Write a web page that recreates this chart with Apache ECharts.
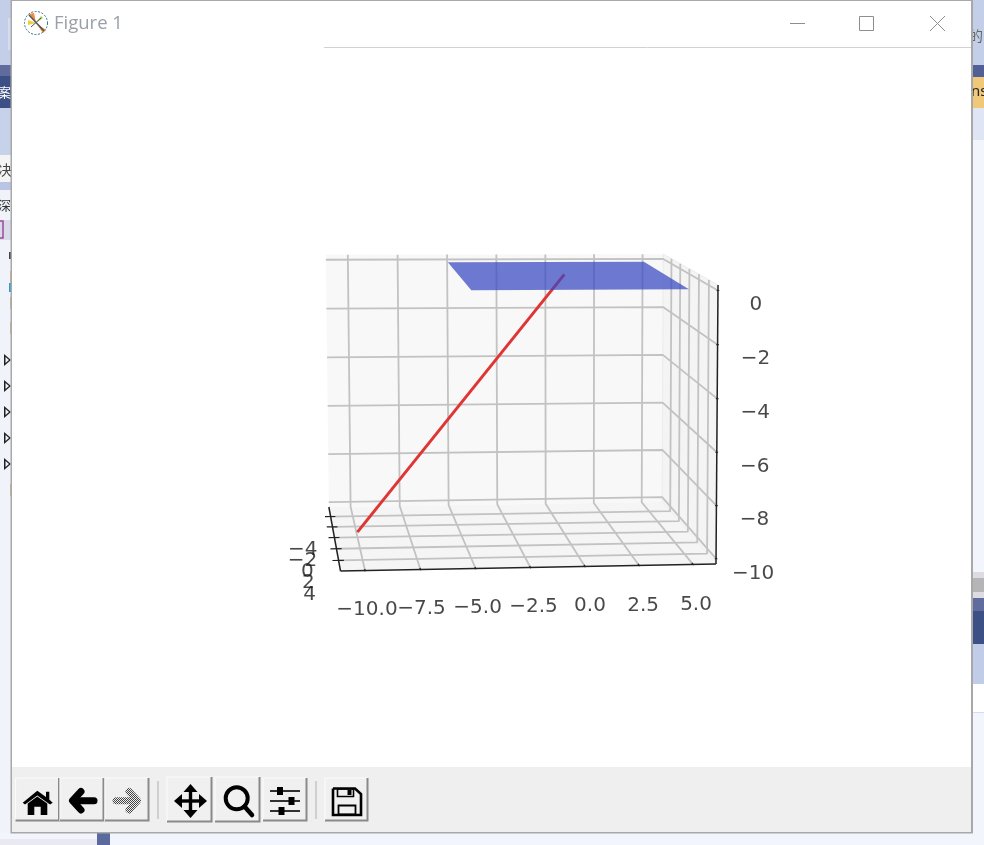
<!DOCTYPE html>
<html><head><meta charset="utf-8">
<style>html,body{margin:0;padding:0;background:#fff}#c{width:984px;height:845px}</style>
<script src="https://cdn.jsdelivr.net/npm/echarts@6/dist/echarts.min.js"></script>
</head><body><div id="c"></div>
<script>
// ---- data ----
const xTicks = [-10, -7.5, -5, -2.5, 0, 2.5, 5];
const yTicks = [-4, -2, 0, 2, 4];
const zTicks = [0, -2, -4, -6, -8, -10];
const xTickLabels = ['\u221210.0', '\u22127.5', '\u22125.0', '\u22122.5', '0.0', '2.5', '5.0'];
const yTickLabels = ['\u22124', '\u22122', '0', '2', '4'];
const zTickLabels = ['0', '\u22122', '\u22124', '\u22126', '\u22128', '\u221210'];
const xLim = [-11.1, 6.07];
const yLim = [-5.94, 5.75];
const zLim = [-10.2, 0.2];
const lineX = [-10, 0];
const lineY = [0, 0];
const lineZ = [-10, 0];
const planeX = [-5, 5];
const planeY = [-5.6, 4.6];
const planeZ = [-0.08];

// ---- 3D view: projective camera fitted to the figure ----
function project(x, y, z) {
  const u = (x - xLim[0]) / (xLim[1] - xLim[0]);
  const v = (yLim[1] - y) / (yLim[1] - yLim[0]);
  const w = (z - zLim[0]) / (zLim[1] - zLim[0]);
  const d = 1 + 0.02 * u + 0.13 * v - 0.014 * w;
  return [(340.5 + 389.82 * u + 31.14 * v - 8 * w) / d,
          (571 + 4.28 * u + 1.91 * v - 288.5 * w) / d];
}
const [x0, x1] = xLim, [y0, y1] = yLim, [z0, z1] = zLim;

function poly(points, fill, z, stroke) {
  return { type: 'custom', coordinateSystem: 'cartesian2d', z, silent: true, clip: false,
    data: [[0, 0]],
    renderItem: (p, api) => ({ type: 'polygon',
      shape: { points: points.map(q => api.coord(q)) },
      style: { fill, stroke: stroke || 'none', lineWidth: 1 } }) };
}
function path(points, color, width, z, cap) {
  return { type: 'line', data: points, z, silent: true, showSymbol: false, symbol: 'none', clip: false,
    lineStyle: { color, width, cap: cap || 'butt' }, emphasis: { disabled: true } };
}
function labels(points, texts, offs, align) {
  return { type: 'scatter', z: 9, silent: true, symbolSize: 0, clip: false,
    data: points.map((q, i) => ({ value: q,
      label: { show: true, formatter: texts[i], position: 'inside', offset: offs[i], align, verticalAlign: 'middle',
        fontFamily: 'DejaVu Sans', fontSize: 20, color: '#1a1a1a' } })) };
}

const series = [];
// panes
series.push(poly([project(x0,y0,z0),project(x1,y0,z0),project(x1,y0,z1),project(x0,y0,z1)], '#f8f8f8', 3));
series.push(poly([project(x1,y0,z0),project(x1,y1,z0),project(x1,y1,z1),project(x1,y0,z1)], '#f4f4f4', 3, '#ececec'));
series.push(poly([project(x0,y1,z0),project(x1,y1,z0),project(x1,y0,z0),project(x0,y0,z0)], '#f5f5f5', 3));
// grid
const gridColor = '#c2c2c2', gw = 1.8;
xTicks.forEach(x => series.push(path([project(x,y1,z0),project(x,y0,z0),project(x,y0,z1)], gridColor, gw, 4)));
yTicks.forEach(y => series.push(path([project(x0,y,z0),project(x1,y,z0),project(x1,y,z1)], gridColor, gw, 4)));
zTicks.forEach(z => series.push(path([project(x0,y0,z),project(x1,y0,z),project(x1,y1,z)], gridColor, gw, 4)));
// red line below the translucent plane
series.push(path(lineX.map((x, i) => project(x, lineY[i], lineZ[i])), '#df3535', 3, 5));
series.push(poly([project(planeX[0],planeY[0],planeZ[0]),project(planeX[1],planeY[0],planeZ[0]),
                  project(planeX[1],planeY[1],planeZ[0]),project(planeX[0],planeY[1],planeZ[0])],
                 'rgba(56,72,192,0.72)', 6));
// axes
const axisColor = '#222';
series.push(path([project(x0,y1,z0),project(x1,y1,z0)], axisColor, 1.5, 7));
series.push(path([project(x0,y1,z0),project(x0,y0,z0)], axisColor, 1.5, 7));
series.push(path([project(x1,y1,z0),project(x1,y1,z1)], axisColor, 1.5, 7));
// ticks
xTicks.forEach(x => series.push(path([project(x,y1-0.25,z0),project(x,y1+0.12,z0)], axisColor, 1.2, 8)));
yTicks.forEach(y => series.push(path([project(x0-0.28,y,z0),project(x0+0.24,y,z0)], axisColor, 1.2, 8)));
zTicks.forEach(z => series.push(path([project(x1-0.06,y1,z),project(x1+0.06,y1,z)], axisColor, 1.2, 8)));
// tick labels
series.push(labels(xTicks.map(x => project(x,y1,z0)), xTickLabels,
  [[2,39.5],[1,39.5],[2,39.5],[3,39.5],[5,39.5],[4,40.5],[3,40.5]], 'center'));
series.push(labels(yTicks.map(y => project(x0,y,z0)), yTickLabels,
  [[-28,33],[-30,33.5],[-27,33.8],[-28,34],[-29,34.5]], 'center'));
series.push(labels(zTicks.map(z => project(x1,y1,z)), zTickLabels,
  [[38,14.5],[38,14.5],[38,14.5],[38,14.5],[38,14.5],[37,15.5]], 'center'));

// ---- window chrome and what shows behind it ----
const els = [];
const R = (x, y, w, h, fill, z, stroke, lw) => els.push({ type: 'rect', z, shape: { x, y, width: w, height: h },
  style: { fill: fill || 'none', stroke: stroke || 'none', lineWidth: lw || 1 } });
const L = (pts, stroke, lw, z, cap) => els.push({ type: 'polyline', z, shape: { points: pts },
  style: { fill: 'none', stroke, lineWidth: lw, lineCap: cap || 'butt', lineJoin: cap === 'round' ? 'round' : 'miter' } });
const P = (pts, fill, z) => els.push({ type: 'polygon', z, shape: { points: pts }, style: { fill } });
const T = (x, y, text, size, fill, z, font) => els.push({ type: 'text', z, x, y,
  style: { text, fontSize: size, fill, fontFamily: font || 'Noto Sans CJK SC', verticalAlign: 'middle', textAlign: 'left' } });

// left strip
R(0, 0, 12, 845, '#f1f3fb', 0);
R(0, 0, 12, 65, '#c3cfe8', 0);
R(8, 18, 4, 32, '#d5ddef', 0);
R(0, 65, 12, 11, '#5f6c9d', 0);
R(0, 76, 12, 32, '#3c5086', 0);
R(0, 108, 12, 47, '#c6d1ea', 0);
R(0, 155, 12, 27, '#f4f4f4', 0);
R(0, 182, 12, 8, '#b9c5e2', 0);
R(0, 220, 12, 20, '#d9dbe8', 0);
T(-2, 92, '案', 13, '#fff', 0);
T(-2, 170, '决', 14, '#444', 0);
T(-2, 205, '深', 13, '#333', 0);
R(-2, 221, 5, 17, 'none', 0, '#a0479a', 1.5);
[360, 386, 412, 438, 464].forEach(y => { P([[4,y-6],[11,y],[4,y+6]], '#222', 0); P([[5.5,y-3],[9,y],[5.5,y+3]], '#f1f3fb', 0); });
[277, 303, 328, 490].forEach(y => R(10, y - 6, 2, 12, '#d8b98a', 0));
R(9, 283, 3, 9, '#2a9fd6', 0);
R(9, 252, 3, 7, '#444', 0);
// right strip
R(972, 0, 12, 845, '#f3f5fc', 0);
R(972, 0, 12, 65, '#c3cfe8', 0);
R(972, 65, 12, 12, '#525f97', 0);
R(972, 77, 12, 31, '#f0c87a', 0);
R(972, 108, 12, 32, '#dfe5f5', 0);
R(972, 572, 12, 6, '#dcdce2', 0);
R(972, 578, 12, 14, '#b5b5b8', 0);
R(972, 592, 12, 6, '#dcdce2', 0);
R(972, 598, 12, 13, '#5f6c9d', 0);
R(972, 611, 12, 33, '#3c5086', 0);
R(972, 644, 12, 40, '#c0cce8', 0);
R(972, 684, 12, 28, '#ffffff', 0);
R(972, 712, 12, 1, '#d5dcef', 0);
T(969, 36, '的', 14, '#666', 0);
T(971, 92, 'ns', 15, '#222', 0, 'Noto Sans');
// bottom strip
R(0, 833, 984, 12, '#f3f5fc', 0);
R(0, 839, 97, 6, '#e8e9f1', 0);
R(97, 833, 13, 12, '#5a6a9e', 0);
// window
R(10.5, -1, 962.5, 834.5, '#a8a8a8', 1);
R(12, 1, 959, 831, '#ffffff', 1);
R(12, 767, 959, 65, '#efefef', 1);
L([[324, 47.5], [971, 47.5]], '#d2d2d2', 1, 1);
// title bar
els.push({ type: 'circle', z: 1, shape: { cx: 36, cy: 23, r: 11.5 }, style: { fill: '#fff', stroke: '#2f6f86', lineWidth: 1, lineDash: [2, 1.5] } });
P([[36, 23], [29, 14], [34, 13]], '#f08a3c', 1);
P([[36, 23], [43, 33], [46, 30]], '#d9853c', 1);
P([[36, 23], [28, 20], [28, 25]], '#f2cf3a', 1);
P([[36, 23], [41, 16], [43, 18]], '#a8cf4a', 1);
L([[29, 15], [44, 31]], '#555', 1.4, 1);
L([[31, 27], [41, 18]], '#555', 1, 1);
T(54, 24, 'Figure 1', 18.5, '#9aa0a8', 1, 'Open Sans');
L([[790, 23.5], [805, 23.5]], '#8e8e8e', 1, 1);
R(859.5, 16.5, 14, 14, 'none', 1, '#8e8e8e', 1);
L([[930, 16], [945, 31]], '#8e8e8e', 1, 1);
L([[945, 16], [930, 31]], '#8e8e8e', 1, 1);
// toolbar buttons
function button(x, y, w, h) {
  R(x, y, w, h, '#f0f0f0', 2);
  L([[x, y + h], [x, y], [x + w, y]], '#fbfbfb', 1.2, 2);
  L([[x, y + h - 0.5], [x + w - 0.5, y + h - 0.5], [x + w - 0.5, y]], '#8a8a8a', 2, 2);
}
[[15.5,778,44,43],[60,778,44,43],[105,778,44,43],[167,777,45,45],[215,777,45,45],[263,778,44,43],[325,778,43,43]]
  .forEach(b => button(...b));
L([[158, 781], [158, 819]], '#c4c4c4', 1.5, 2);
L([[316, 781], [316, 819]], '#c4c4c4', 1.5, 2);
// home
P([[37.3,790.7],[46,797],[46,791.7],[49.3,791.7],[49.3,799.5],[52.7,802.7],[50,804.5],[37.3,795.5],[25,804.5],[22.7,802.7]], '#000', 3);
P([[37.3,796.5],[47.3,803.5],[47.3,815],[40.7,815],[40.7,806.7],[34.3,806.7],[34.3,815],[27.7,815],[27.7,803.5]], '#000', 3);
// back and forward (forward is dithered in the original)
const dither = document.createElement('canvas');
dither.width = dither.height = 2;
const dc = dither.getContext('2d');
dc.fillStyle = '#efefef'; dc.fillRect(0, 0, 2, 2);
dc.fillStyle = '#444'; dc.fillRect(0, 0, 1, 1); dc.fillRect(1, 1, 1, 1);
const ditherFill = { image: dither, repeat: 'repeat' };
L([[81,791.5],[72.5,800.7],[81,810]], '#000', 7, 3, 'round');
L([[74,800.7],[94,800.7]], '#000', 7, 3, 'round');
L([[129,791.5],[137.5,800.7],[129,810]], ditherFill, 7, 3, 'round');
L([[116,800.7],[136,800.7]], ditherFill, 7, 3, 'round');
// pan
L([[178,801],[203,801]], '#000', 3.4, 3);
L([[190.5,788],[190.5,814]], '#000', 3.4, 3);
P([[174,801],[182,794],[182,808]], '#000', 3);
P([[207,801],[199,794],[199,808]], '#000', 3);
P([[190.5,784],[183.5,792],[197.5,792]], '#000', 3);
P([[190.5,818],[183.5,810],[197.5,810]], '#000', 3);
// zoom
els.push({ type: 'circle', z: 3, shape: { cx: 236.7, cy: 798.3, r: 11 }, style: { fill: 'none', stroke: '#000', lineWidth: 4 } });
L([[244.5,806.5],[252,815]], '#000', 4.5, 3, 'round');
// subplots
[791, 801, 811].forEach(y => L([[270,y],[300,y]], '#000', 1.6, 3));
R(277, 787, 6, 8, '#000', 3); R(288.5, 797, 6, 8, '#000', 3); R(278.5, 807, 6, 8, '#000', 3);
// save
L([[333,788.5],[355,788.5],[361,794],[361,815],[333,815],[333,788.5]], '#000', 2.6, 3);
R(337.5, 789, 16, 7.5, 'none', 3, '#000', 1.6);
R(347.5, 790, 4, 5, '#000', 3);
R(338.5, 805.5, 17, 9, 'none', 3, '#000', 1.8);

const chart = echarts.init(document.getElementById('c'), null, { renderer: 'canvas', width: 984, height: 845 });
chart.setOption({
  animation: false,
  backgroundColor: '#fff',
  tooltip: { show: false },
  legend: { show: false },
  grid: { left: 0, right: 0, top: 0, bottom: 0 },
  xAxis: { type: 'value', min: 0, max: 984, show: false },
  yAxis: { type: 'value', min: 0, max: 845, inverse: true, show: false },
  graphic: { elements: els },
  series
});
</script></body></html>
